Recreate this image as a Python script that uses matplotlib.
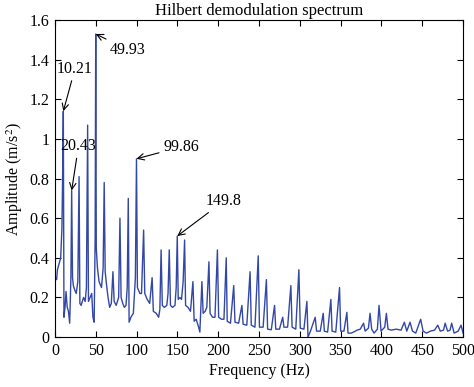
import matplotlib
matplotlib.use("Agg")
import matplotlib.pyplot as plt

freq = [0, 1, 2, 3, 5, 7, 8.5, 9.5, 10.21, 11, 12.5, 13.5, 15, 16.5, 18, 19.5, 20.43, 21.5, 22.5, 24, 26, 28,
        29.5, 30.5, 32, 33.5, 35, 37, 38.5, 40, 41, 43, 45, 46.5, 48, 49.2, 49.93, 50.6, 52, 54, 57, 59,
        60.3, 61.5, 63, 65, 67, 69, 71, 72.5, 75, 78, 79.6, 81, 83, 85, 87, 88.5, 89.8, 90.8, 93, 96, 98.5,
        99.86, 101, 104, 106, 108.6, 110, 113, 116, 119, 120.5, 124, 127, 128.5, 130, 131.5, 134, 137, 138.5,
        140, 141.5, 144, 147, 148.5, 149.8, 151, 153, 155, 157, 158.8, 160, 163, 166, 169, 170.5, 173, 176,
        177.5, 180, 181.5, 184, 186, 188.6, 190, 193, 196, 199, 200.5, 204, 207, 209.8, 211, 215, 219, 220.5,
        225, 229, 230.5, 235, 239, 240.5, 245, 249, 250.5, 255, 259, 260.5, 265, 269, 270.5, 275, 279, 280.5,
        285, 289, 290.5, 295, 298.8, 300.5, 305, 308.6, 310, 313, 318.8, 320.5, 325, 328.6, 330, 334, 338,
        339.5, 344, 348.6, 350, 354, 357.6, 359, 363, 368, 370, 374, 378, 380, 384, 386, 388, 391, 395, 397,
        399.5, 404, 406, 408, 412, 418, 424, 428, 431, 435, 438, 442, 448, 451, 455, 460, 465, 469, 472, 476,
        478, 481, 484, 486, 489, 494, 497.5, 500]
amp = [0.28, 0.30, 0.29, 0.34, 0.37, 0.40, 0.55, 0.85, 1.14, 0.10, 0.16, 0.23, 0.15, 0.13, 0.07, 0.30, 0.74, 0.30, 0.26, 0.24, 0.22, 0.28,
       0.81, 0.17, 0.16, 0.18, 0.20, 0.18, 0.25, 1.07, 0.18, 0.20, 0.22, 0.10, 0.075, 0.50, 1.53, 0.45, 0.35, 0.28, 0.25, 0.35,
       0.78, 0.33, 0.27, 0.20, 0.15, 0.17, 0.33, 0.18, 0.16, 0.20, 0.60, 0.20, 0.17, 0.15, 0.16, 0.25, 0.70, 0.075, 0.10, 0.12, 0.30,
       0.90, 0.25, 0.22, 0.22, 0.54, 0.22, 0.19, 0.17, 0.30, 0.13, 0.12, 0.10, 0.14, 0.44, 0.16, 0.15, 0.16, 0.22,
       0.44, 0.16, 0.15, 0.16, 0.25, 0.51, 0.19, 0.20, 0.19, 0.28, 0.49, 0.16, 0.15, 0.13, 0.28, 0.08, 0.09, 0.05,
       0.025, 0.28, 0.12, 0.13, 0.15, 0.38, 0.12, 0.10, 0.10, 0.44, 0.10, 0.09, 0.09, 0.40, 0.08, 0.07, 0.26, 0.075,
       0.07, 0.16, 0.065, 0.06, 0.33, 0.06, 0.05, 0.41, 0.05, 0.05, 0.29, 0.04, 0.037, 0.16, 0.04, 0.04, 0.10, 0.05,
       0.05, 0.26, 0.05, 0.04, 0.34, 0.045, 0.04, 0.18, 0.0, 0.03, 0.10, 0.03, 0.03, 0.12, 0.03, 0.025, 0.19,
       0.03, 0.025, 0.25, 0.03, 0.03, 0.125, 0.02, 0.02, 0.03, 0.035, 0.04, 0.07, 0.03, 0.045, 0.12, 0.04, 0.02, 0.04, 0.16,
       0.03, 0.05, 0.12, 0.04, 0.035, 0.04, 0.035, 0.075, 0.03, 0.075, 0.03, 0.02, 0.09, 0.03, 0.02, 0.03, 0.035, 0.06, 0.03, 0.035,
       0.07, 0.03, 0.035, 0.07, 0.02, 0.03, 0.06, 0.02]

labels = ["10.21", "20.43", "49.93", "99.86", "149.8"]
label_tip = [(10.21, 1.14), (20.43, 0.74), (49.93, 1.53), (99.86, 0.90), (149.8, 0.51)]
label_text = [(24.5, 1.355), (28.8, 0.964), (67.5, 1.45), (132.5, 0.96), (185, 0.687)]
label_ha = ["center", "center", "left", "left", "left"]

xticks = [0, 50, 100, 150, 200, 250, 300, 350, 400, 450, 500]
yticks = [0, 0.2, 0.4, 0.6, 0.8, 1.0, 1.2, 1.4, 1.6]
ytick_labels = ["0", "0.2", "0.4", "0.6", "0.8", "1", "1.2", "1.4", "1.6"]

plt.rcParams['font.family'] = ['Liberation Serif', 'DejaVu Serif']
plt.rcParams['mathtext.fontset'] = 'stix'

fig = plt.figure(figsize=(4.74, 3.87), dpi=100)
ax = fig.add_axes([0.116, 0.129, 0.861, 0.819])
ax.plot(freq, amp, color='#3348a6', linewidth=1.0)
ax.set_xlim(0, 500)
ax.set_ylim(0, 1.6)
ax.set_xticks(xticks)
ax.set_xticklabels([str(t) for t in xticks])
ax.set_yticks(yticks)
ax.set_yticklabels(ytick_labels)
ax.tick_params(direction='in', top=True, right=True, length=4, width=0.8, labelsize=11.5, pad=4)
for s in ax.spines.values():
    s.set_linewidth(0.8)

for lab, tip, txt, ha in zip(labels, label_tip, label_text, label_ha):
    ax.annotate(lab, xy=tip, xytext=txt, ha=ha, va='center', fontsize=11.5,
                arrowprops=dict(arrowstyle='->', color='black', lw=0.8, shrinkA=1, shrinkB=0))

ax.set_title("Hilbert demodulation spectrum", fontsize=12, pad=4)
ax.set_xlabel("Frequency (Hz)", fontsize=11.5, labelpad=3)
ax.set_ylabel("Amplitude (m/s$^2$)", fontsize=11.5, labelpad=3)

fig.savefig("out.png", dpi=100)
